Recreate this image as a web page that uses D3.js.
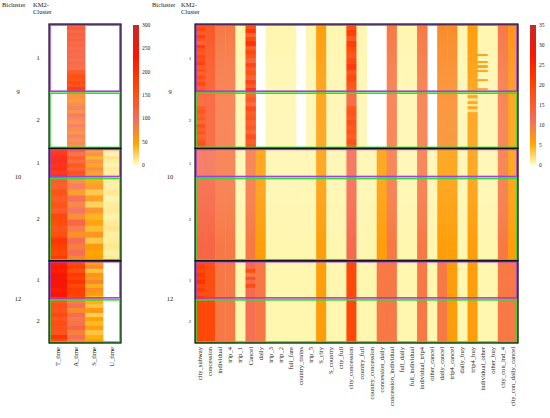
<!DOCTYPE html>
<html>
<head>
<meta charset="utf-8">
<script src="https://cdn.jsdelivr.net/npm/d3@7"></script>
<style>
body { margin: 0; background: #fff; }
text { font-family: "Liberation Serif", serif; fill: #222; }
</style>
</head>
<body>
<svg id="chart" width="550" height="418"></svg>
<script>
// groups: bicluster / km2 cluster, with pixel-row counts
var groups = [
  {bic: "9",  km: "1", rows: 68},
  {bic: "9",  km: "2", rows: 56},
  {bic: "10", km: "1", rows: 29},
  {bic: "10", km: "2", rows: 83},
  {bic: "12", km: "1", rows: 38},
  {bic: "12", km: "2", rows: 44}
];

var leftCols = ["T_time", "A_time", "S_time", "U_time"];
// stripe values read per group (top to bottom), null = missing
var leftVals = [
  [null, [115,125,110,120,115,125,112,120,110,118,115,122,110,120,118,115,150,165,180,170,190,175,210,195], null, null],
  [null, [70,75,65,80,90,70,100,85,75,95,80,70,90,75,85,70], null, null],
  [[210,220,230,245,225,240,215,250], [150,120,160,135,170,140,180,160], [60,75,40,70,55,80,60,50], [12,8,15,10,6,12,9,14]],
  [[160,150,175,155,165,150,180,170,155,160,190,175,165,185], [75,90,60,110,80,95,70,120,85,65,100,80,95,75], [45,60,30,55,25,65,40,50,35,60,28,55,45,50], [10,8,12,6,9,11,7,10,13,8,9,11,7,10]],
  [[215,230,220,245,260,235,250,225,240,255], [160,175,150,185,170,190,165,180,175,160], [45,70,30,60,50,75,40,65,55,35], null],
  [[140,150,145,160,140,155,150,145,190,150], [80,95,70,100,85,90,110,80,95,75], [40,30,55,25,45,35,50,30,40,45], null]
];

var rightCols = ["city_subway", "concession", "individual", "trip_4", "trip_1", "Cancel", "daily",
  "trip_3", "trip_2", "full_fare", "country_trains", "trip_5", "S_city", "S_country", "city_full",
  "city_concession", "country_full", "country_concession", "concession_daily", "concession_individual",
  "full_daily", "full_individual", "individual_trip4", "other_cancel", "daily_cancel", "trip4_cancel",
  "daily_buy", "trip4_buy", "individual_other", "other_buy", "city_con_ind_4", "city_con_daily_cancel"];
// one value per column per group, null = missing
var rightVals = [
  [17,16,10,10,0.5,18,null,0.5,0.5,0.5,null,0.5,6,0.5,0.5,18,0.5,null,null,10,0.5,0.5,10,null,8,8,0.5,6,0.5,0.5,10,7],
  [15,15,10,10,0.5,17,null,0.5,0.5,0.5,null,0.5,6,0.5,0.5,17,0.5,null,null,10,0.5,0.5,10,null,8,8,0.5,6,0.5,0.5,10,6],
  [11,11,10,10,0.5,10,6,0.5,0.5,0.5,0.5,0.5,6,0.5,0.5,12,0.5,0.5,6,10,0.5,0.5,10,0.5,6,6,0.5,6,0.5,0.5,10,6],
  [13,13,10,10,0.5,10,6,0.5,0.5,0.5,0.5,0.5,6,0.5,0.5,12,0.5,0.5,6,10,0.5,0.5,10,0.5,6,6,0.5,6,0.5,0.5,10,6],
  [18,18,10,10,0.5,12,10,0.5,0.5,0.5,0.5,0.5,6,0.5,0.5,19,0.5,0.5,10,10,0.5,0.5,10,0.5,10,6,0.5,6,0.5,0.5,10,10],
  [19,19,10,10,0.5,11,10,0.5,0.5,0.5,0.5,0.5,6,0.5,0.5,19,0.5,0.5,10,10,0.5,0.5,10,0.5,10,6,0.5,6,0.5,0.5,10,10]
];
// a few brighter stripes in the right panel: [group, column, stripe values]
var rightStripes = [
  [0, 0, [17,20,16,21,18,15,22,19,17,21,20,23,18,20,17,21,19,22,18,20]],
  [0, 5, [18,22,15,20,24,17,21,19,16,22,18,20,17,23,19,26]],
  [0, 15, [18,21,17,22,20,18,21,24,19,22,20,19]],
  [0, 28, [0.5,0.5,0.5,0.5,0.5,0.5,0.5,0.5,0.5,0.5,0.5,0.5,0.5,6,0.5,0.5,6,0.5,6,0.5,6,0.5,0.5,0.5,6,0.5,0.5,0.5,6,0.5]],
  [1, 0, [15,15,15,15,19,21,18,20,17,22,19,21,18,20,22,19]],
  [1, 5, [17,20,16,22,19,21,18,20,17,22,19,21]],
  [1, 15, [15,15,15,20,21,19,22,20,21,19,22,20]],
  [1, 27, [2,6,2,6,1,6,2,6,6,6,6,6,6,6,6,6,6,6,6,6]],
  [4, 0, [18,21,19,22,20,23,19,21,18,22]],
  [4, 5, [12,12,18,10,17,12,18,12,12,12]]
];

var pal = ["#ffffc2", "#ffa500", "#f56e58", "#ff4500", "#ff1400", "#c42a2a"];
var stops = [0, 0.15, 0.32, 0.57, 0.78, 1];
function colourFor(max) {
  return d3.scaleLinear().domain(stops.map(function(s){ return s * max; })).range(pal).clamp(true);
}
var colL = colourFor(300), colR = colourFor(35);

var svg = d3.select("#chart");
var yTop = 24, yBottom = 343;
var totalRows = d3.sum(groups, function(g){ return g.rows; });
var y = d3.scaleLinear().domain([0, totalRows]).range([yTop, yBottom]);
var starts = [], acc = 0;
groups.forEach(function(g){ starts.push(acc); acc += g.rows; });

function stripeAt(arr, r, n) {
  return arr[Math.min(arr.length - 1, Math.floor(r / n * arr.length))];
}

function drawPanel(x0, x1, cols, valueFn, colour) {
  var x = d3.scaleBand().domain(cols).range([x0, x1]);
  var g = svg.append("g");
  groups.forEach(function(gr, gi) {
    for (var r = 0; r < gr.rows; r++) {
      cols.forEach(function(c, ci) {
        var v = valueFn(gi, ci, r, gr.rows);
        if (v === null || v === undefined) return;
        g.append("rect")
          .attr("x", x(c)).attr("y", y(starts[gi] + r))
          .attr("width", x.bandwidth() + 0.3)
          .attr("height", y(1) - y(0) + 0.3)
          .attr("fill", colour(v));
      });
    }
  });
  // cluster boxes
  groups.forEach(function(gr, gi) {
    g.append("rect")
      .attr("x", x0 + 1).attr("y", y(starts[gi]) + 1)
      .attr("width", x1 - x0 - 2).attr("height", y(gr.rows) - y(0) - 2)
      .attr("fill", "none")
      .attr("stroke", gr.km === "1" ? "#a040e0" : "#33dd33")
      .attr("stroke-width", 1.6);
  });
  // bicluster boxes
  [0, 2, 4].forEach(function(gi) {
    g.append("rect")
      .attr("x", x0).attr("y", y(starts[gi]))
      .attr("width", x1 - x0).attr("height", y(starts[gi] + groups[gi].rows + groups[gi + 1].rows) - y(starts[gi]))
      .attr("fill", "none").attr("stroke", "#111").attr("stroke-width", 1.2);
  });
  // column labels
  cols.forEach(function(c) {
    var cx = x(c) + x.bandwidth() / 2;
    g.append("text")
      .attr("transform", "translate(" + (cx + 2) + "," + (yBottom + 4) + ") rotate(-90)")
      .attr("text-anchor", "end").attr("font-size", 6.6).text(c);
  });
  return x;
}

drawPanel(49, 121, leftCols, function(gi, ci, r, n) {
  var a = leftVals[gi][ci];
  return a ? stripeAt(a, r, n) : null;
}, colL);

drawPanel(195, 518, rightCols, function(gi, ci, r, n) {
  for (var i = 0; i < rightStripes.length; i++) {
    var s = rightStripes[i];
    if (s[0] === gi && s[1] === ci) return stripeAt(s[2], r, n);
  }
  return rightVals[gi][ci];
}, colR);

// row labels
function rowLabels(xb, xk, fs) {
  groups.forEach(function(gr, gi) {
    svg.append("text").attr("x", xk).attr("y", y(starts[gi] + gr.rows / 2) + 2)
      .attr("font-size", fs).attr("text-anchor", "middle").text(gr.km);
  });
  [0, 2, 4].forEach(function(gi) {
    var mid = starts[gi] + groups[gi].rows;
    svg.append("text").attr("x", xb).attr("y", y(mid) + 2)
      .attr("font-size", 6.5).attr("text-anchor", "middle").text(groups[gi].bic);
  });
}
rowLabels(18, 38, 6.5);
rowLabels(170, 190, 5);

svg.append("text").attr("x", 2).attr("y", 7).attr("font-size", 6.5).text("Bicluster");
svg.append("text").attr("x", 33).attr("y", 7).attr("font-size", 6.5).text("KM2-");
svg.append("text").attr("x", 33).attr("y", 14).attr("font-size", 6.5).text("Cluster");
svg.append("text").attr("x", 152).attr("y", 7).attr("font-size", 6.5).text("Bicluster");
svg.append("text").attr("x", 181).attr("y", 7).attr("font-size", 6.5).text("KM2-");
svg.append("text").attr("x", 181).attr("y", 14).attr("font-size", 6.5).text("Cluster");

// legends
var defs = svg.append("defs");
var grad = defs.append("linearGradient").attr("id", "lg").attr("x1", 0).attr("y1", 1).attr("x2", 0).attr("y2", 0);
stops.forEach(function(s, i){ grad.append("stop").attr("offset", s).attr("stop-color", pal[i]); });

function legend(lx, max, ticks) {
  var ly = d3.scaleLinear().domain([0, max]).range([165, 25]);
  svg.append("rect").attr("x", lx).attr("y", 25).attr("width", 6).attr("height", 140).attr("fill", "url(#lg)");
  ticks.forEach(function(t) {
    svg.append("text").attr("x", lx + 9).attr("y", ly(t) + 2)
      .attr("font-size", 5.5).text(t);
  });
}
legend(133, 300, [0, 50, 100, 150, 200, 250, 300]);
legend(530, 35, [0, 5, 10, 15, 20, 25, 30, 35]);
</script>
</body>
</html>
